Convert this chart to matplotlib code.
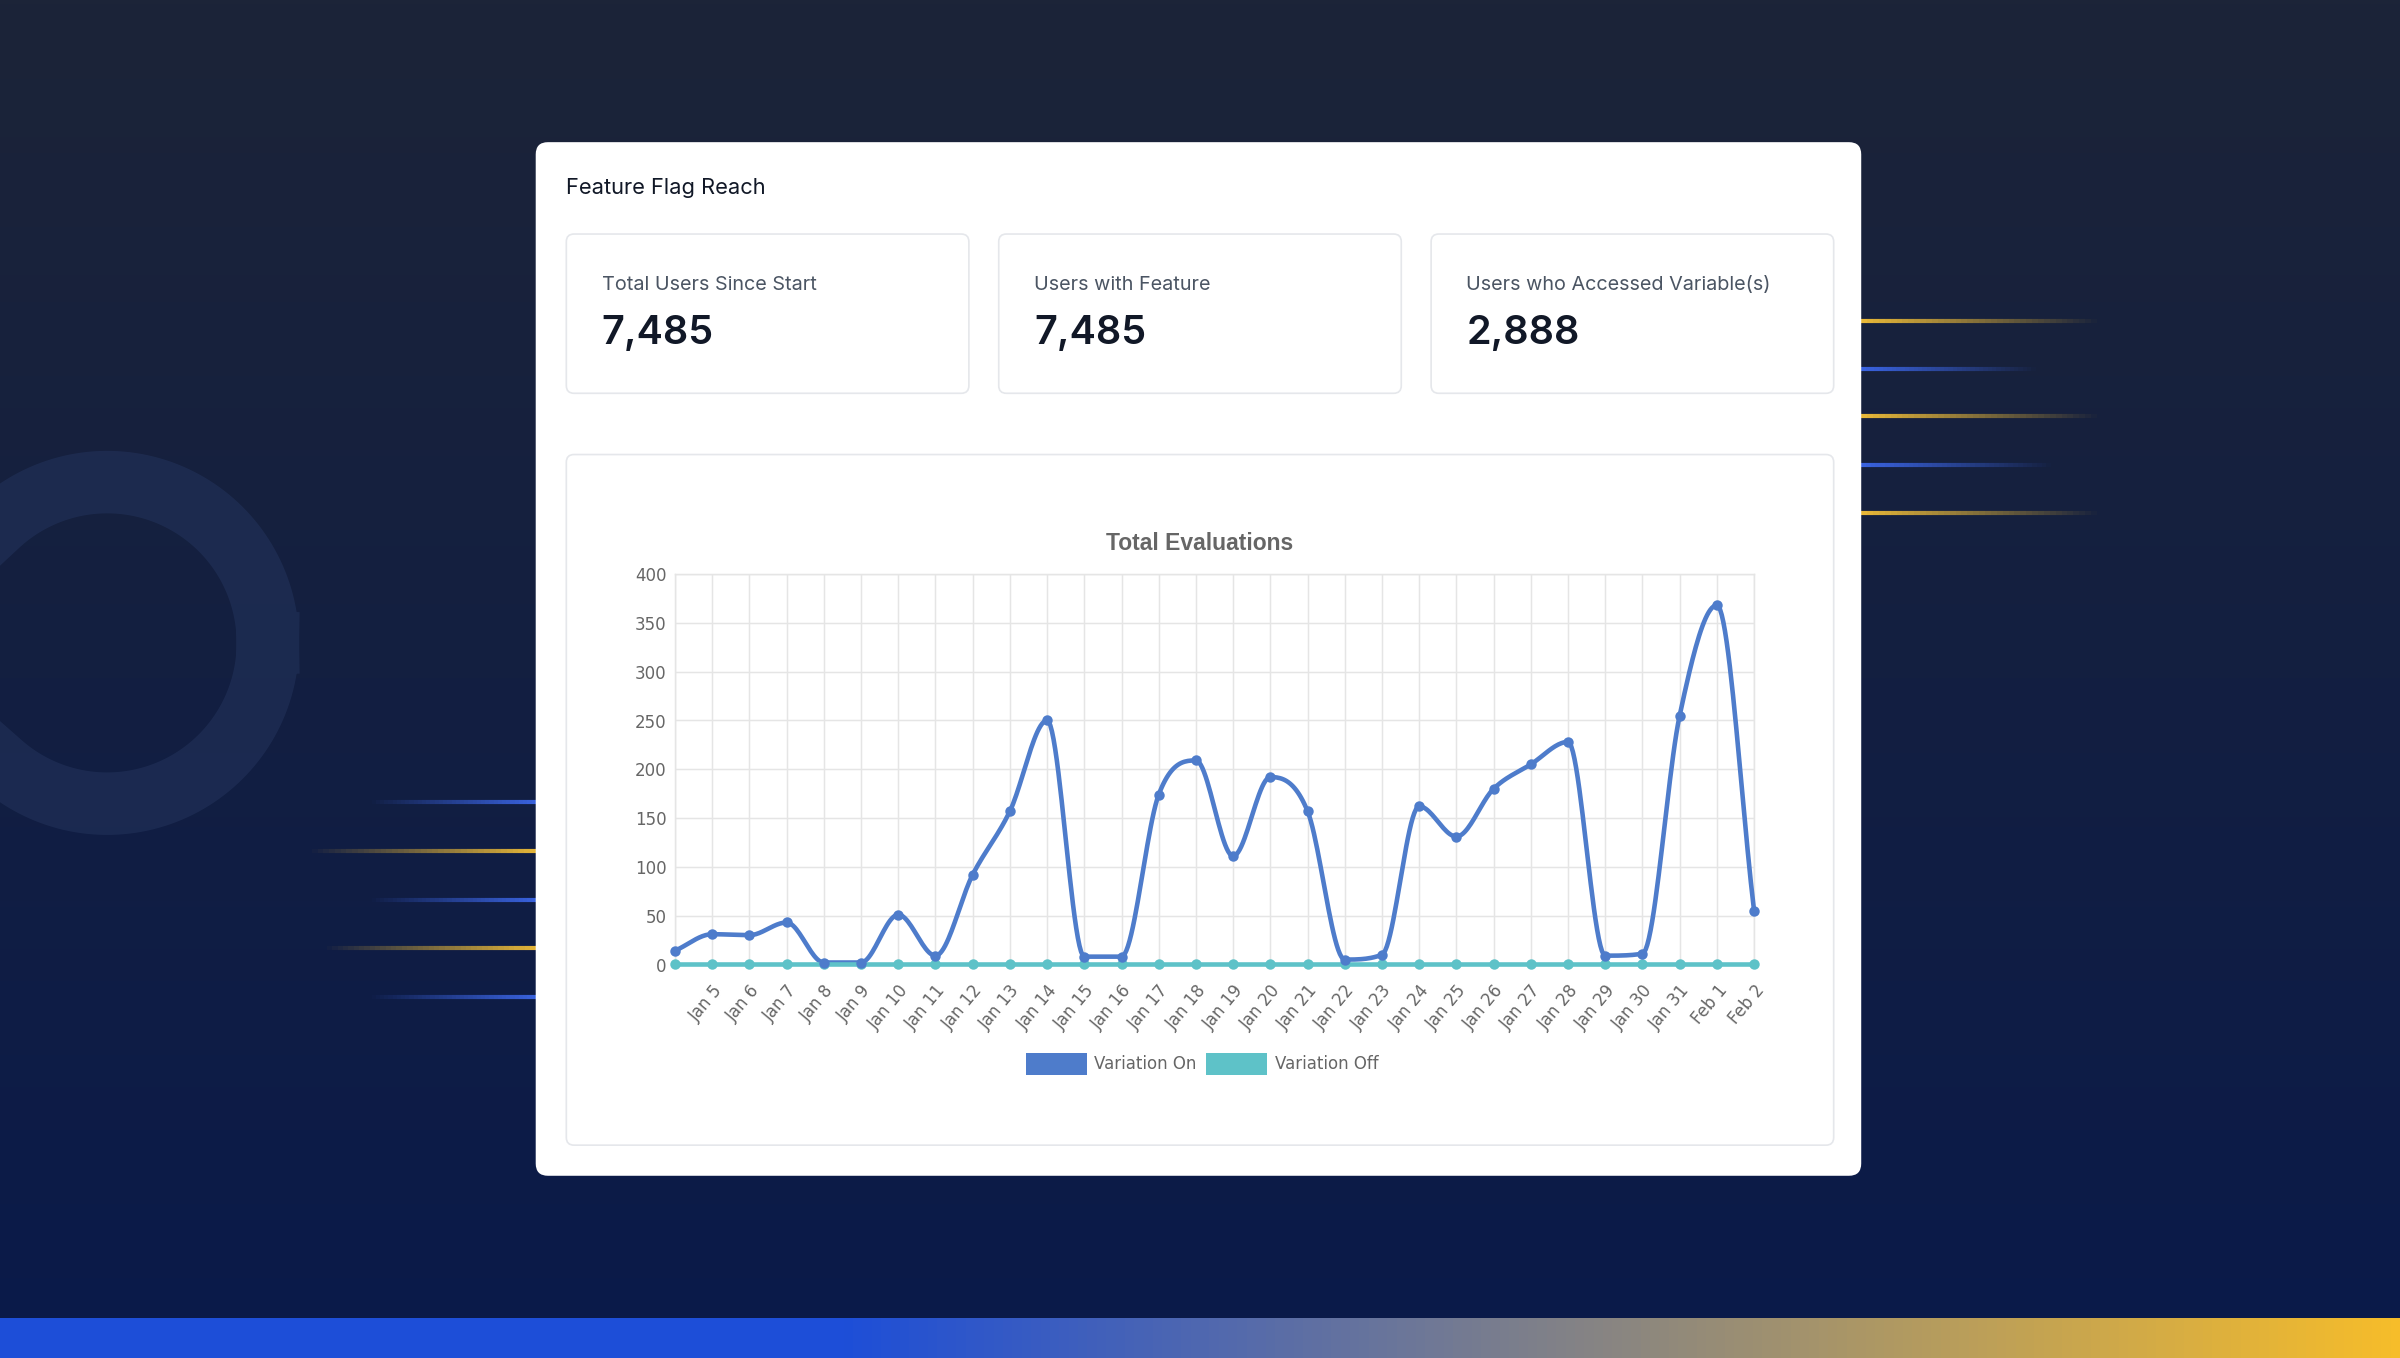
import numpy as np
import matplotlib
matplotlib.use("Agg")
import matplotlib.pyplot as plt
from matplotlib.patches import FancyBboxPatch, Rectangle

labels = ["", "Jan 5", "Jan 6", "Jan 7", "Jan 8", "Jan 9", "Jan 10", "Jan 11", "Jan 12", "Jan 13",
          "Jan 14", "Jan 15", "Jan 16", "Jan 17", "Jan 18", "Jan 19", "Jan 20", "Jan 21", "Jan 22",
          "Jan 23", "Jan 24", "Jan 25", "Jan 26", "Jan 27", "Jan 28", "Jan 29", "Jan 30", "Jan 31",
          "Feb 1", "Feb 2"]
variation_on = [14, 31, 30, 43, 2, 2, 51, 9, 92, 157, 250, 8, 8, 174, 209, 111, 192, 157, 5, 10,
                162, 131, 180, 205, 228, 9, 11, 255, 368, 55]
variation_off = [0] * 30
stat_titles = ["Total Users Since Start", "Users with Feature", "Users who Accessed Variable(s)"]
stat_values = ["7,485", "7,485", "2,888"]

W, H = 1568.0, 887.0
fig = plt.figure(figsize=(16, 9.055), dpi=150)

def fx(x): return x / W
def fy(y): return 1 - y / H

bg = fig.add_axes([0, 0, 1, 1]); bg.set_axis_off()
g = np.linspace(0, 1, 256)[:, None]
top = np.array([0x1c, 0x24, 0x38]) / 255; bot = np.array([0x0a, 0x1a, 0x4a]) / 255
img = top[None, None, :] * (1 - g[..., None]) + bot[None, None, :] * g[..., None]
img = np.repeat(img, 2, axis=1)
bg.imshow(img, extent=[0, W, H, 0], aspect="auto", zorder=0)
t = np.linspace(0, 2 * np.pi, 200)
bg.plot(70 + 105 * np.cos(t), 420 + 105 * np.sin(t), color="#22325a", lw=30, alpha=0.6, zorder=1)
for y, c, x0, x1 in [(210, "#e8b838", 1216, 1370), (241, "#3a63e0", 1216, 1330), (272, "#e8b838", 1216, 1370),
                     (304, "#3a63e0", 1216, 1340), (335, "#e8b838", 1216, 1370),
                     (524, "#3a63e0", 240, 350), (556, "#e8b838", 200, 350), (588, "#3a63e0", 240, 350),
                     (619, "#e8b838", 210, 350), (651, "#3a63e0", 240, 350)]:
    n = 40
    xs = np.linspace(x0, x1, n + 1)
    for i in range(n):
        a = (1 - i / n) if x0 == 1216 else (i / n)
        bg.plot(xs[i:i + 2], [y, y], color=c, lw=2, alpha=a, zorder=2, solid_capstyle="butt")
bar = np.zeros((1, 256, 3))
c1 = np.array([0x1d, 0x4e, 0xd8]) / 255; c2 = np.array([0xf6, 0xbd, 0x2a]) / 255
for i in range(256):
    f = min(max((i / 255 - 0.35) / 0.65, 0), 1)
    bar[0, i] = c1 * (1 - f) + c2 * f
bg.imshow(bar, extent=[0, W, 887, 861], aspect="auto", zorder=3)
bg.set_xlim(0, W); bg.set_ylim(H, 0)
bg.add_patch(FancyBboxPatch((350, 93), 866, 675, boxstyle="round,pad=0,rounding_size=8",
                            fc="white", ec="none", zorder=4))
bg.text(370, 123, "Feature Flag Reach", fontsize=10.5, color="#111827", va="center", zorder=5, family="Inter")
for i, (tt, vv) in enumerate(zip(stat_titles, stat_values)):
    x0 = 370 + i * 282.5
    bg.add_patch(FancyBboxPatch((x0, 153), 263, 104, boxstyle="round,pad=0,rounding_size=5",
                                fc="white", ec="#e5e7eb", lw=0.8, zorder=5))
    bg.text(x0 + 23, 186, tt, fontsize=9.5, color="#4b5563", va="center", zorder=6, family="Inter")
    bg.text(x0 + 23, 218, vv, fontsize=19, color="#111827", va="center", fontweight="semibold",
            zorder=6, family="Inter")
bg.add_patch(FancyBboxPatch((370, 297), 828, 451, boxstyle="round,pad=0,rounding_size=5",
                            fc="white", ec="#e5e7eb", lw=0.8, zorder=5))
bg.text(784, 355, "Total Evaluations", fontsize=11, fontweight="bold", color="#666666",
        ha="center", va="center", family="Liberation Sans", zorder=6)

ax = fig.add_axes([fx(441), fy(630), fx(1146 - 441), (630 - 375) / H])
ax.set_zorder(10)
x = np.arange(len(variation_on))

def monotone(xv, yv, n=24):
    xv = np.asarray(xv, float); yv = np.asarray(yv, float)
    N = len(xv)
    d = np.diff(yv) / np.diff(xv)
    m = np.zeros(N)
    m[0], m[-1] = d[0], d[-1]
    for i in range(1, N - 1):
        m[i] = 0 if d[i - 1] * d[i] <= 0 else (d[i - 1] + d[i]) / 2
    for i in range(N - 1):
        if d[i] == 0:
            m[i] = m[i + 1] = 0
            continue
        a, b = m[i] / d[i], m[i + 1] / d[i]
        s = a * a + b * b
        if s > 9:
            tau = 3 / np.sqrt(s)
            m[i], m[i + 1] = tau * a * d[i], tau * b * d[i]
    px, py = [], []
    for i in range(N - 1):
        h = xv[i + 1] - xv[i]
        s = np.linspace(0, 1, n)
        h00 = 2 * s**3 - 3 * s**2 + 1; h10 = s**3 - 2 * s**2 + s
        h01 = -2 * s**3 + 3 * s**2; h11 = s**3 - s**2
        px.extend(xv[i] + s * h)
        py.extend(h00 * yv[i] + h10 * h * m[i] + h01 * yv[i + 1] + h11 * h * m[i + 1])
    return np.array(px), np.array(py)

on_c = "#4e7ccb"; off_c = "#5ec2c8"
bx, by = monotone(x, variation_on)
ax.plot(bx, by, color=on_c, lw=2.2, clip_on=False, zorder=3)
ax.plot(x, variation_on, "o", color=on_c, ms=4, clip_on=False, zorder=4)
ax.plot(x, variation_off, "-o", color=off_c, lw=2.2, ms=4, clip_on=False, zorder=3)
ax.set_xlim(0, len(x) - 1); ax.set_ylim(0, 400)
ax.set_yticks(range(0, 401, 50))
ax.set_xticks(x); ax.set_xticklabels(labels, rotation=50, ha="right", rotation_mode="anchor")
ax.tick_params(labelsize=8, colors="#666666", length=0, pad=4)
ax.tick_params(axis="x", pad=8)
ax.grid(True, color="#e5e5e5", lw=0.7)
for s in ax.spines.values():
    s.set_color("#e5e5e5"); s.set_linewidth(0.7)

bg.add_patch(Rectangle((670, 688), 40, 14, fc=on_c, zorder=6))
bg.text(715, 695, "Variation On", fontsize=8, color="#666666", va="center", zorder=6)
bg.add_patch(Rectangle((788, 688), 40, 14, fc=off_c, zorder=6))
bg.text(833, 695, "Variation Off", fontsize=8, color="#666666", va="center", zorder=6)

fig.savefig("out.png", dpi=150)
